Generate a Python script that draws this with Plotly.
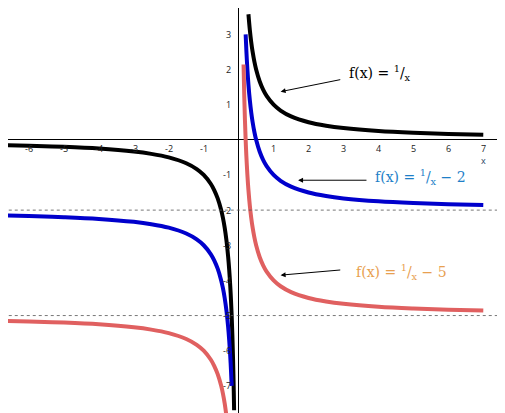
import numpy as np
import plotly.graph_objects as go

offsets = [0, -2, -5]
colors = ["black", "#0000CC", "#E06060"]
x_left = [-6.7, -6, -5, -4, -3, -2.5, -2, -1.5, -1.2, -1, -0.8, -0.7, -0.6, -0.5, -0.45, -0.4, -0.35, -0.3, -0.27, -0.24, -0.22, -0.2, -0.18, -0.16, -0.14, -0.13]
x_right = [0.13, 0.14, 0.16, 0.18, 0.2, 0.22, 0.25, 0.28, 0.32, 0.36, 0.4, 0.45, 0.5, 0.6, 0.7, 0.8, 1, 1.2, 1.5, 2, 2.5, 3, 4, 5, 6, 7]
right_start = [0.26, 0.2, 0.14]
left_end = [-0.13, -0.19, -0.35]
xticks = [-6, -5, -4, -3, -2, -1, 1, 2, 3, 4, 5, 6, 7]
yticks = [-7, -6, -5, -4, -3, -2, -1, 1, 2, 3]

fig = go.Figure()
for c, col, rs, le in zip(offsets, colors, right_start, left_end):
    xl = np.array([v for v in x_left if v <= le])
    xr = np.array([v for v in x_right if v >= rs])
    for xs in (xl, xr):
        fig.add_trace(go.Scatter(x=xs, y=1/xs + c, mode="lines", line=dict(color=col, width=4, shape="spline"), showlegend=False))

for yv in [-2, -5]:
    fig.add_shape(type="line", x0=-6.75, x1=7.9, y0=yv, y1=yv, line=dict(color="#555", width=0.8, dash="dot"))

for t in xticks:
    fig.add_annotation(x=t, y=-0.25, text=str(t), showarrow=False, font=dict(size=9, color="#222"))
for t in yticks:
    fig.add_annotation(x=-0.15, y=t, text=str(t), showarrow=False, font=dict(size=9, color="#222"), xanchor="right")
fig.add_annotation(x=7.0, y=-0.6, text="x", showarrow=False, font=dict(size=9))

labels = [("f(x) = <sup>1</sup>/<sub>x</sub>", "black", 3.1, 1.9, 2.95, 1.72, 1.2, 1.37),
          ("f(x) = <sup>1</sup>/<sub>x</sub> − 2", "#1E7FC8", 3.85, -1.05, 3.7, -1.15, 1.7, -1.15),
          ("f(x) = <sup>1</sup>/<sub>x</sub> − 5", "#E8A050", 3.3, -3.75, 2.95, -3.7, 1.2, -3.85)]
for txt, col, tx, ty, sx, sy, ax, ay in labels:
    fig.add_annotation(x=ax, y=ay, ax=sx, ay=sy, axref="x", ayref="y", text="", showarrow=True,
                       arrowhead=2, arrowsize=1, arrowwidth=1, arrowcolor="black")
    fig.add_annotation(x=tx, y=ty, text=txt, showarrow=False, font=dict(size=14, color=col, family="DejaVu Serif"), xanchor="left")

fig.update_xaxes(range=[-6.6, 7.85], zeroline=True, zerolinecolor="black", zerolinewidth=1, showgrid=False, showticklabels=False)
fig.update_yaxes(range=[-8.0, 3.75], zeroline=True, zerolinecolor="black", zerolinewidth=1, showgrid=False, showticklabels=False)
fig.update_layout(width=505, height=413, margin=dict(l=0, r=0, t=0, b=0), plot_bgcolor="white", paper_bgcolor="white")
fig.write_html("out.html")
